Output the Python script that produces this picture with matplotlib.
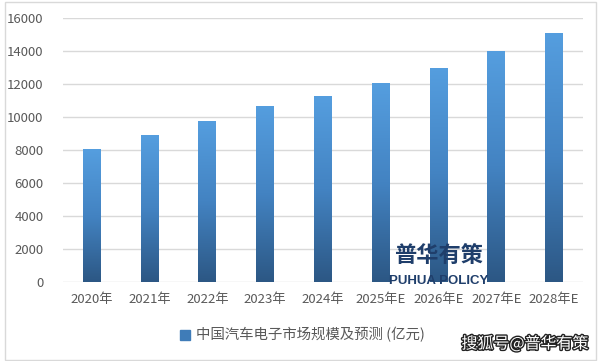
import numpy as np
import matplotlib
matplotlib.use("Agg")
import matplotlib.pyplot as plt
from matplotlib.colors import LinearSegmentedColormap
from matplotlib.lines import Line2D
from matplotlib.patches import Rectangle
import matplotlib.patheffects as pe

plt.rcParams['font.family'] = ['Noto Sans CJK SC', 'DejaVu Sans']

years = ["2020年", "2021年", "2022年", "2023年", "2024年",
         "2025年E", "2026年E", "2027年E", "2028年E"]
values = [8050, 8900, 9760, 10670, 11270, 12060, 12970, 14000, 15090]
legend_label = "中国汽车电子市场规模及预测 (亿元)"

TEXT = "#595959"
GRID = "#D9D9D9"


def main():
    fig = plt.figure(figsize=(6.01, 3.61), dpi=100)
    ax = fig.add_axes([63 / 601, 1 - 282 / 361, 520 / 601, 264 / 361])

    x = np.arange(len(years))
    bars = ax.bar(x, values, width=0.31, color="none", zorder=3)

    # per-bar vertical gradient, light on top, dark at bottom
    cmap = LinearSegmentedColormap.from_list("bar", ["#2C5784", "#4383C2", "#559EDF"])
    grad = np.linspace(0, 1, 256).reshape(-1, 1)
    for b in bars:
        bx, by = b.get_x(), b.get_y()
        w, h = b.get_width(), b.get_height()
        im = ax.imshow(grad, cmap=cmap, origin="lower", aspect="auto",
                       extent=[bx, bx + w, by, by + h], zorder=3)
        im.set_clip_path(b)

    ax.set_xlim(-0.5, len(years) - 0.5)
    ax.set_ylim(0, 16000)
    ax.set_yticks(np.arange(0, 16001, 2000))
    ax.set_xticks(x)
    ax.set_xticklabels(years)
    ax.grid(axis="y", color=GRID, linewidth=1, zorder=0)
    for s in ax.spines.values():
        s.set_visible(False)
    ax.tick_params(length=0, colors=TEXT, labelsize=9.5)
    ax.tick_params(axis="y", pad=14)
    ax.tick_params(axis="x", pad=8)

    handle = Line2D([], [], marker="s", color="none", markerfacecolor="#3F7CB8",
                    markeredgecolor="#3F7CB8", markersize=7)
    leg = fig.legend([handle], [legend_label], loc="center", bbox_to_anchor=(302 / 601, 1 - 335 / 361),
                     frameon=False, fontsize=10.4, handlelength=0.8, handletextpad=0.3)
    for t in leg.get_texts():
        t.set_color(TEXT)

    # watermark
    fig.text(439 / 601, 1 - 255 / 361, "普华有策", ha="center", va="center",
             fontsize=16, fontweight="bold", color="#1F3E6B", zorder=10)
    fig.text(439 / 601, 1 - 281 / 361, "PUHUA POLICY", ha="center", va="center",
             fontsize=9.5, fontweight="bold", color="#1F3E6B",
             family=["Liberation Sans"], zorder=10)
    fig.text(525 / 601, 1 - 344 / 361, "搜狐号@普华有策", ha="center", va="center",
             fontsize=11.5, color="white", zorder=10,
             path_effects=[pe.withStroke(linewidth=2, foreground="#222222")])

    # chart border
    fig.patches.append(Rectangle((5 / 601, 1 / 361), 591 / 601, 358 / 361,
                                 transform=fig.transFigure, fill=False,
                                 edgecolor=GRID, linewidth=1))

    plt.savefig("out.png", dpi=100)


if __name__ == "__main__":
    main()
